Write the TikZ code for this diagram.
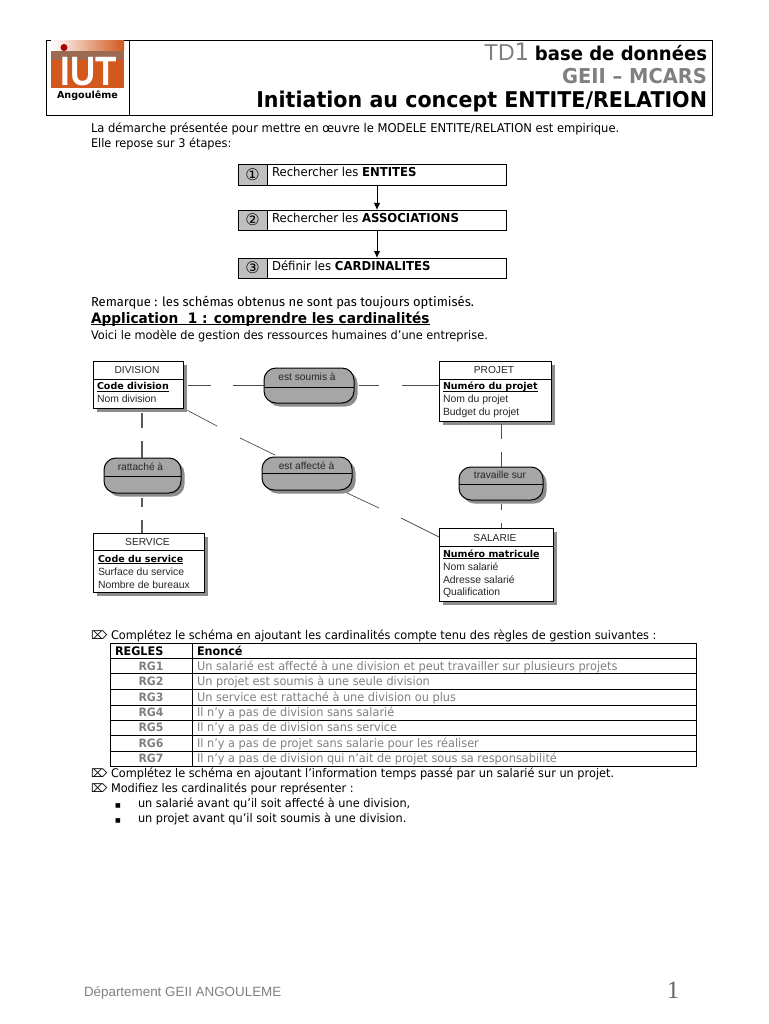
\documentclass[tikz,border=0pt]{standalone}
\usepackage{fontspec}
\setmainfont{DejaVu Sans}[FakeStretch=0.95]
\newfontfamily\arialf{Liberation Sans}
\newfontfamily\timesf{Liberation Serif}
\newfontfamily\dejaf{DejaVu Sans}
\newfontfamily\comicf{Fira Sans}
\usetikzlibrary{shadows,arrows.meta,calc}
\definecolor{txtgray}{HTML}{808080}
\definecolor{assocgray}{HTML}{A6A6A6}
\definecolor{shadowgray}{HTML}{8C8C8C}
\definecolor{iutorange}{HTML}{D2581E}
\definecolor{iutbrown}{HTML}{9C6A50}
\newcommand{\fs}[1]{\fontsize{#1}{#1}\selectfont}
\newcommand{\tick}{\makebox[20pt][l]{\dejaf\fs{11.5}⌦}}
\newcommand{\ulx}[1]{\underline{\smash{#1}}}
\tikzset{
  x=1pt,y=-1pt,
  inner sep=0pt,outer sep=0pt,
  lineh/.style={text height=10pt,text depth=1.6pt},
  smallh/.style={text height=8pt,text depth=1.7pt},
  txt/.style={anchor=west,font=\fs{11.92},text=black,lineh},
  rule/.style={anchor=west,font=\fs{11.92},text=txtgray,lineh},
  rulelabel/.style={anchor=center,font=\bfseries\fs{11.5},text=txtgray,lineh},
  attr/.style={anchor=west,font=\arialf\fs{10.4},text=black!85,smallh},
  key/.style={anchor=west,font=\dejaf\bfseries\fs{9.5},text=black,smallh},
  title/.style={anchor=center,font=\arialf\fs{10.2},text=black!85,smallh},
  boxshadow/.style={general shadow={fill=shadowgray,shadow xshift=3.5pt,shadow yshift=-3.5pt}},
  entity/.style={draw=black,line width=1pt,fill=white,boxshadow},
  assoc/.style={draw=black,line width=1pt,fill=assocgray,rounded corners=12pt,boxshadow},
  link/.style={draw=black!70,line width=0.9pt},
  linkv/.style={draw=black!65,line width=1.2pt},
  stepframe/.style={draw=black,line width=0.9pt,fill=white},
  stepcell/.style={draw=black,line width=0.9pt,fill=black!25},
  stepnum/.style={anchor=center,font=\dejaf\fs{16}},
  steptext/.style={anchor=west,font=\fs{12.3},lineh},
  steparrow/.style={draw=black,line width=0.8pt,-{Latex[length=7pt,width=6.5pt]}},
  tableline/.style={draw=black,line width=0.8pt},
}
\newcommand{\bx}[7]{% name, x1,y1,x2,y2, style, text
  \pgfmathsetmacro{\bxw}{#4-#2}\pgfmathsetmacro{\bxh}{#5-#3}
  \pgfmathsetmacro{\bxx}{(#2+#4)/2}\pgfmathsetmacro{\bxy}{(#3+#5)/2}
  \node[#6,minimum width=\bxw pt,minimum height=\bxh pt] (#1) at (\bxx,\bxy) {#7};
}
\begin{document}
\begin{tikzpicture}
\useasboundingbox (0,0) rectangle (768,1024);
% ---- header
\bx{headbox}{46}{40}{712}{115}{draw=black,line width=0.9pt}{}
\coordinate (headcut) at (129.5,40);
\draw[black,line width=0.9pt] (headcut) -- (headcut |- headbox.south);
% logo
\fill[iutorange] (51,50) rectangle (124,88.5);
\shade[left color=white,right color=iutorange] (51,41) rectangle (124,51);
\fill[iutbrown] (51,51) rectangle (124,60);
\fill[red!65!black] (64,47.5) circle (3.5);
\node[anchor=base,font=\arialf\bfseries\fs{41},text=white,text depth=0pt,text height=29pt] (iut) at (88.5,86) {\scalebox{.85}[1]{IUT}};
\node[anchor=center,font=\dejaf\bfseries\fs{9.6},text height=7.5pt,text depth=0.2pt] (angouleme) at (87.5,94.5) {Angoulême};
% title
\node[anchor=east,font=\bfseries\fs{19}] (td) at (707,52) {\mdseries{\arialf\fs{23}\color{txtgray}TD}{\fs{24}\color{txtgray}1} \bfseries base de données};
\node[anchor=east,font=\bfseries\fs{20.5},text=txtgray] (geii) at (707,76) {GEII – MCARS};
\node[anchor=east,font=\bfseries\fs{21.7},text height=14pt,text depth=4pt] (init) at (707,103) {Initiation au concept ENTITE/RELATION};
% ---- intro
\node[txt,font=\fs{12.15}] (intro1) at (91,128) {La démarche présentée pour mettre en œuvre le MODELE ENTITE/RELATION est empirique.};
\node[txt] (intro2) at (91,143) {Elle repose sur 3 étapes:};
% ---- steps
\bx{s1}{238}{164}{506}{185}{stepframe}{}
\bx{s2}{238}{210}{506}{230}{stepframe}{}
\bx{s3}{238}{258}{506}{278}{stepframe}{}
\bx{c1}{238}{164}{267}{185}{stepcell}{}
\bx{c2}{238}{210}{267}{230}{stepcell}{}
\bx{c3}{238}{258}{267}{278}{stepcell}{}
\node[stepnum] (n1) at (c1) {①};
\node[stepnum] (n2) at (c2) {②};
\node[stepnum] (n3) at (c3) {③};
\node[steptext] (t1) at (272,172) {Rechercher les \textbf{ENTITES}};
\node[steptext] (t2) at (272,218) {Rechercher les \textbf{ASSOCIATIONS}};
\node[steptext] (t3) at (272,266.5) {Définir les \textbf{CARDINALITES}};
\draw[steparrow] ($(s1.south)+(5,0)$) -- ($(s2.north)+(5,0)$);
\draw[steparrow] ($(s2.south)+(5,0)$) -- ($(s3.north)+(5,0)$);
% ---- remark and heading
\node[anchor=west,font=\comicf\fs{13},lineh] (rem) at (91,302) {Remarque : les schémas obtenus ne sont pas toujours optimisés.};
\node[anchor=west,font=\bfseries\fs{14.4},lineh] (app) at (91,319) {\ulx{Application\ \ 1 : comprendre les cardinalités}};
\node[txt] (voici) at (91,335) {Voici le modèle de gestion des ressources humaines d’une entreprise.};
% ---- entities
\bx{division}{93}{361}{183}{408}{entity}{}
\bx{service}{93}{533}{204}{592}{entity}{}
\bx{projet}{439}{361}{551}{421}{entity}{}
\bx{salarie}{439}{528}{553}{601}{entity}{}
\draw[black,line width=.9pt] (93,379) -- (183,379);
\draw[black,line width=.9pt] (93,550) -- (204,550);
\draw[black,line width=.9pt] (439,379) -- (551,379);
\draw[black,line width=.9pt] (439,546) -- (553,546);
\node[title] (divT) at (137,370) {DIVISION};
\node[key] (div1) at (97,386.5) {\ulx{Code division}};
\node[attr] (div2) at (97,399.5) {Nom division};
\node[title] (serT) at (147.5,542) {SERVICE};
\node[key] (ser1) at (98,559) {\ulx{Code du service}};
\node[attr] (ser2) at (98,572) {Surface du service};
\node[attr] (ser3) at (98,585) {Nombre de bureaux};
\node[title] (proT) at (494,370) {PROJET};
\node[key] (pro1) at (443,386.5) {\ulx{Numéro du projet}};
\node[attr] (pro2) at (443,399.5) {Nom du projet};
\node[attr] (pro3) at (443,412) {Budget du projet};
\node[title] (salT) at (495,538) {SALARIE};
\node[key] (sal1) at (443,554) {\ulx{Numéro matricule}};
\node[attr] (sal2) at (443,567) {Nom salarié};
\node[attr] (sal3) at (443,580) {Adresse salarié};
\node[attr] (sal4) at (443,592.5) {Qualification};
% ---- associations
\bx{soumis}{264}{368}{354}{403}{assoc}{}
\bx{affecte}{262}{457}{352}{490}{assoc}{}
\bx{rattache}{104}{458}{181}{493}{assoc}{}
\bx{travaille}{459}{467}{543}{500}{assoc}{}
\draw[black,line width=.9pt] (264,387) -- (354,387);
\draw[black,line width=.9pt] (262,473) -- (352,473);
\draw[black,line width=.9pt] (104,476) -- (181,476);
\draw[black,line width=.9pt] (459,484) -- (543,484);
\node[title] (soumisT) at (307,377) {est soumis à};
\node[title] (affecteT) at (306.5,466) {est affecté à};
\node[title] (rattacheT) at (140.5,467) {rattaché à};
\node[title] (travailleT) at (500,475.5) {travaille sur};
% ---- connectors with their gaps
\coordinate (a1) at (211,385); \coordinate (a2) at (233,385);
\coordinate (a3) at (379,385); \coordinate (a4) at (402,385);
\draw[link,shorten <=5pt] (division.east |- a1) -- (a1);
\draw[link] (a2) -- (soumis.west |- a2);
\draw[link,shorten <=5pt] (soumis.east |- a3) -- (a3);
\draw[link] (a4) -- (projet.west |- a4);
\coordinate (b1) at (217,426); \coordinate (b2) at (240,438);
\coordinate (b3) at (275,455); \coordinate (b4) at (347,493);
\coordinate (b5) at (379,508); \coordinate (b6) at (401,518);
\coordinate (b7) at (439,537);
\draw[link,shorten <=5pt,line width=.7pt] (division.south east) -- (b1);
\draw[link,line width=.7pt] (b2) -- (b3);
\draw[link,line width=.7pt] (b4) -- (b5);
\draw[link,line width=.7pt] (b6) -- (b7);
\coordinate (c1a) at (142,428); \coordinate (c1b) at (142,441);
\coordinate (c2a) at (142,507); \coordinate (c2b) at (142,520);
\draw[linkv,shorten <=5pt] (division.south -| c1a) -- (c1a);
\draw[linkv] (c1b) -- (rattache.north -| c1b);
\draw[linkv,shorten <=5pt] (rattache.south -| c2a) -- (c2a);
\draw[linkv] (c2b) -- (service.north -| c2b);
\coordinate (d1a) at (501,439); \coordinate (d1b) at (501,452);
\coordinate (d2a) at (501,510); \coordinate (d2b) at (501,523);
\draw[link,shorten <=3pt] (projet.south -| d1a) -- (d1a);
\draw[link] (d1b) -- (travaille.north -| d1b);
\draw[link,shorten <=4pt] (travaille.south -| d2a) -- (d2a);
\draw[link] (d2b) -- (salarie.north -| d2b);
% ---- exercise
\node[txt] (ex1) at (91,635) {\tick Complétez le schéma en ajoutant les cardinalités compte tenu des règles de gestion suivantes :};
\bx{table}{110}{643}{696}{766}{tableline}{}
\coordinate (colx) at (192,643);
\draw[tableline] (colx) -- (colx |- table.south);
\foreach \yy in {658,673,689,705,720,735,751}
  \draw[tableline] (110,\yy) -- (696,\yy);
\node[anchor=west,font=\bfseries\fs{11.8},lineh] (hR) at (115,651) {REGLES};
\node[anchor=west,font=\bfseries\fs{11.8},lineh] (hE) at (197,651) {Enoncé};
\node[rulelabel] (r1) at (151,666) {RG1};
\node[rulelabel] (r2) at (151,681.5) {RG2};
\node[rulelabel] (r3) at (151,697) {RG3};
\node[rulelabel] (r4) at (151,712.5) {RG4};
\node[rulelabel] (r5) at (151,727.5) {RG5};
\node[rulelabel] (r6) at (151,743) {RG6};
\node[rulelabel] (r7) at (151,758) {RG7};
\node[rule] (e1) at (197,666) {Un salarié est affecté à une division et peut travailler sur plusieurs projets};
\node[rule] (e2) at (197,681.5) {Un projet est soumis à une seule division};
\node[rule] (e3) at (197,697) {Un service est rattaché à une division ou plus};
\node[rule] (e4) at (197,712.5) {Il n’y a pas de division sans salarié};
\node[rule] (e5) at (197,727.5) {Il n’y a pas de division sans service};
\node[rule] (e6) at (197,743) {Il n’y a pas de projet sans salarie pour les réaliser};
\node[rule] (e7) at (197,758) {Il n’y a pas de division qui n’ait de projet sous sa responsabilité};
\node[txt] (ex2) at (91,773.5) {\tick Complétez le schéma en ajoutant l’information temps passé par un salarié sur un projet.};
\node[txt] (ex3) at (91,788.5) {\tick Modifiez les cardinalités pour représenter :};
\node[txt] (bu1) at (115,803) {{\dejaf\fs{6}■}};
\node[txt] (it1) at (138,803) {un salarié avant qu’il soit affecté à une division,};
\node[txt] (bu2) at (115,818) {{\dejaf\fs{6}■}};
\node[txt] (it2) at (138,818) {un projet avant qu’il soit soumis à une division.};
% ---- footer
\node[anchor=west,font=\arialf\fs{13.4},text=txtgray] (foot) at (84,993) {Département GEII ANGOULEME};
\node[anchor=center,font=\timesf\fs{25},text=black!60] (page) at (673,990) {1};
\end{tikzpicture}
\end{document}
